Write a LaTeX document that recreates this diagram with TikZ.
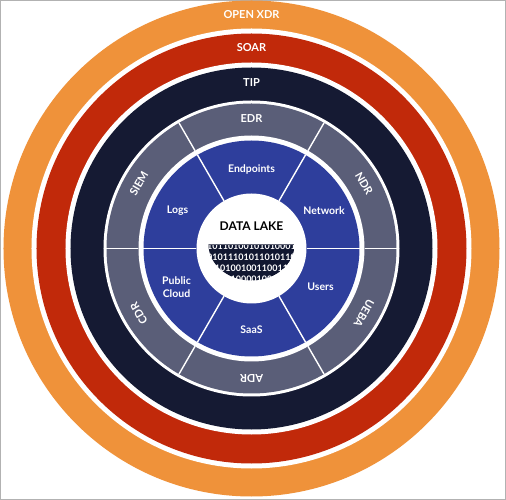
\documentclass[tikz,border=0pt]{standalone}
\usepackage{fontspec}
\setmainfont{Lato}
\usepackage{tikz}
\usetikzlibrary{positioning}

\definecolor{xdrorange}{HTML}{EF923A}
\definecolor{soarred}{HTML}{C1290A}
\definecolor{tipnavy}{HTML}{151A33}
\definecolor{toolgray}{HTML}{5A5E78}
\definecolor{sourceblue}{HTML}{2E3E9C}
\definecolor{lakenavy}{HTML}{111730}

\tikzset{
  ringlabel/.style={text=white, font=\bfseries\fontsize{11}{11}\selectfont, inner sep=0pt},
  sectorlabel/.style={text=white, font=\bfseries\fontsize{10.5}{13}\selectfont, align=center, inner sep=0pt},
  divider/.style={white, line width=1.4pt},
  bits/.style={text=white, font=\bfseries\fontsize{9}{9}\selectfont, inner sep=0pt},
}

\begin{document}
\begin{tikzpicture}[x=1pt,y=1pt]
	% page and frame
	\useasboundingbox (-251.5,-251.5) rectangle (254.5,248.5);
	\fill[white] (-251.5,-251.5) rectangle (254.5,248.5);
	\draw[black!30, line width=1pt] (-251,-251) rectangle (254,248);
	% rings, outside in
	\fill[xdrorange] (0,0) circle (248);
	\fill[white] (0,0) circle (220);
	\fill[soarred] (0,0) circle (215);
	\fill[white] (0,0) circle (186);
	\fill[tipnavy] (0,0) circle (181);
	\fill[white] (0,0) circle (148);
	\fill[toolgray] (0,0) circle (145);
	\fill[white] (0,0) circle (113);
	\fill[sourceblue] (0,0) circle (108);
	\fill[white] (0,0) circle (55);
	% sector dividers
	\foreach \a in {0,60,...,300} {
		\draw[divider] (\a:113) -- (\a:145);
		\draw[divider] (\a:55) -- (\a:108);
	}
	% outer ring text
	\node[ringlabel] (openxdr) at (90:234) {OPEN XDR};
	\node[ringlabel] (soar) at (90:201) {SOAR};
	\node[ringlabel] (tip) at (90:166) {TIP};
	% tool ring text
	\foreach \a/\t/\n in {90/EDR/edr, 30/NDR/ndr, 330/UEBA/ueba, 270/ADR/adr, 210/CDR/cdr, 150/SIEM/siem}
		\node[ringlabel, rotate=\a-90] (\n) at (\a:130) {\t};
	% data sources
	\node[sectorlabel] (endpoints) at (0,79) {Endpoints};
	\node[sectorlabel] (network) at (72.5,38) {Network};
	\node[sectorlabel] (logs) at (-74,38) {Logs};
	\node[sectorlabel] (cloud) at (-75,-38.5) {Public\\Cloud};
	\node[sectorlabel] (users) at (69,-38.5) {Users};
	\node[sectorlabel] (saas) at (0,-81.5) {SaaS};
	% data lake
	\node[font=\bfseries\fontsize{12}{12}\selectfont, inner sep=0pt] (lake) at (0,22) {DATA LAKE};
	\begin{scope}
		\path[clip] (-43,4) arc[start angle=180, end angle=360, x radius=43, y radius=36] -- cycle;
		\fill[lakenavy] (-43,4) arc[start angle=180, end angle=360, x radius=43, y radius=36] -- cycle;
		\node[bits] (bitsa) at (0,2) {10110100101010001};
		\node[bits] (bitsb) at (0,-9) {01011101011010110};
		\node[bits] (bitsc) at (0,-20) {0101001001100110};
		\node[bits] (bitsd) at (0,-30.5) {1100001001};
	\end{scope}
\end{tikzpicture}
\end{document}
